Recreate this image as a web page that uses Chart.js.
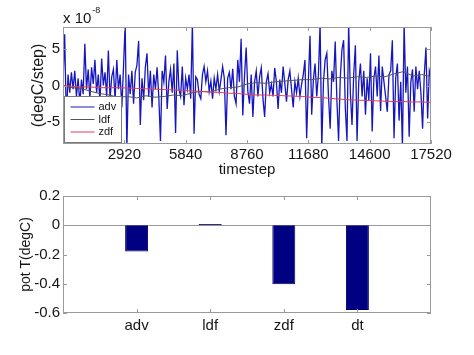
<!DOCTYPE html>
<html>
<head>
<meta charset="utf-8">
<script src="https://cdn.jsdelivr.net/npm/chart.js@4/dist/chart.umd.min.js"></script>
<style>
  html, body { margin: 0; padding: 0; background: #fff; }
  #wrap { position: relative; width: 474px; height: 355px; overflow: hidden; }
  #top { position: absolute; left: 0; top: 0; }
  #bot { position: absolute; left: 0; top: 180px; }
</style>
</head>
<body>
<div id="wrap">
  <canvas id="top" width="474" height="180"></canvas>
  <canvas id="bot" width="474" height="175"></canvas>
</div>
<script>
// ---------- DATA (values in units of 1e-8 degC/step) ----------
const seriesNames = ['adv', 'ldf', 'zdf'];
const advStep = 80;   // timesteps between adv samples
const advValues = [
  0.5, 7.0, -5.0, 1.5, -1.0, 1.8, -0.5, 2.0, -1.5, 1.0,
  -2.5, 0.8, -1.2, 5.7, -0.5, 2.2, -1.8, 2.5, 0.2, 3.5,
  -1.0, 1.5, -2.2, 3.7, 0.0, 1.8, -1.5, 4.8, -1.9, 1.2,
  2.2, -2.0, 3.5, -0.5, 1.5, -3.0, 2.5, 8.5, -8.5, 1.5,
  -1.2, 2.0, -2.5, 1.8, 2.8, 6.1, -5.4, 1.0, -2.0, 2.5,
  4.4, -1.5, 2.0, -3.0, 1.5, -0.5, 2.5, -1.5, -7.6, 2.0,
  0.5, 4.1, -3.2, 0.5, 2.2, -1.0, 3.0, -6.5, 4.8, -0.5,
  -1.5, 2.6, -2.7, 1.0, -0.5, 1.5, -1.8, 8.5, -6.6, 1.2,
  0.8, -1.2, -1.8, 1.5, 2.6, 0.5, 2.0, -0.8, 0.6, -1.8,
  1.0, -0.5, 1.5, -0.8, 0.8, 2.6, 1.0, -6.8, 1.0, 1.8,
  -0.5, 2.3, -1.5, -2.5, 3.5, 0.5, 6.4, -4.1, 1.2, 5.2,
  -0.8, -2.5, 1.5, -4.3, 0.5, 2.0, -1.5, 1.2, 2.4, -1.8,
  -4.3, 0.5, 1.6, -1.0, 0.2, -1.5, 2.4, 0.5, -3.2, 0.8,
  -1.0, 2.6, 0.3, -2.2, 0.8, 2.0, -0.5, -3.0, 0.5, -1.0,
  1.0, -1.5, 0.2, 1.5, 3.5, -7.2, 0.5, 6.8, -4.0, 0.8,
  3.0, -1.5, 1.5, 8.5, -8.5, 0.5, 3.5, 4.4, -1.5, -5.9,
  2.0, 0.5, 6.0, -2.0, -7.6, 1.0, 4.9, 6.2, -3.0, -7.6,
  8.5, -1.0, -5.4, 1.5, 5.5, -7.6, 0.5, 3.0, -1.5, 2.0,
  -4.0, 1.0, -2.0, 4.4, -6.3, 1.0, 2.6, -1.5, 4.1, -3.5,
  2.6, 0.5, -1.5, -3.6, 1.5, 2.0, 6.2, -7.2, 1.0, 3.0,
  -4.8, 0.5, -8.5, 8.5, -1.0, 2.6, -7.0, 0.5, 2.2, -3.6,
  2.6, -0.5, 2.0, -1.0, -5.9, 1.5, 5.2, -4.5, 2.0, 1.0
];
const slowStep = 438; // timesteps between ldf / zdf samples
const ldfValues = [
  0.0, -0.3, -0.4, -0.8, -1.1, -1.3, -1.6, -1.5, -1.7, -1.4,
  -1.6, -1.5, -1.3, -1.4, -1.0, -0.8, -0.9, -0.5, -0.3, -0.2,
  0.2, 0.4, 0.3, 0.5, 0.6, 0.7, 0.8, 0.8, 1.0, 0.9,
  1.1, 1.0, 1.2, 1.1, 1.3, 1.2, 1.6, 1.9, 1.3, 1.5, 1.2
];
const zdfValues = [
  0.0, -0.1, -0.2, -0.2, -0.3, -0.3, -0.3, -0.35, -0.4, -0.45,
  -0.5, -0.55, -0.6, -0.7, -0.75, -0.8, -0.9, -0.95, -1.05, -1.1,
  -1.2, -1.3, -1.3, -1.35, -1.4, -1.45, -1.5, -1.6, -1.65, -1.75,
  -1.85, -1.95, -2.0, -2.05, -2.1, -2.15, -2.2, -2.2, -2.25, -2.25, -2.3
];
const topXTicks = [2920, 5840, 8760, 11680, 14600, 17520];
const topYTicks = [-5, 0, 5];

const barCategories = ['adv', 'ldf', 'zdf', 'dt'];
const barValues = [-0.18, 0.008, -0.404, -0.58];
const botYTicks = [0.2, 0, -0.2, -0.4, -0.6];

// ---------- STYLE ----------
const FONT = '"Liberation Sans", Arial, Helvetica, sans-serif';
const TEXT = '#151515';
const FRAME = '#9a9a9a';
const colors = { adv: 'rgb(22,22,190)', ldf: 'rgb(85,85,85)', zdf: 'rgb(228,60,85)' };

function toPoints(vals, step) { return vals.map((v, i) => ({ x: i * step, y: v })); }

const framePlugin = {
  id: 'frame',
  beforeDatasetsDraw(chart, args, opts) {
    if (!opts.zeroLine) return;
    const { ctx, chartArea: a } = chart;
    const y = Math.round(chart.scales.y.getPixelForValue(0)) + 0.5;
    ctx.save();
    ctx.strokeStyle = FRAME; ctx.lineWidth = 1;
    ctx.beginPath(); ctx.moveTo(a.left, y); ctx.lineTo(a.right, y); ctx.stroke();
    ctx.restore();
  },
  afterDraw(chart, args, opts) {
    const { ctx, chartArea: a } = chart;
    ctx.save();
    ctx.strokeStyle = FRAME; ctx.lineWidth = 1;
    ctx.strokeRect(Math.round(a.left) + 0.5, Math.round(a.top) + 0.5,
                   Math.round(a.right - a.left) - 1, Math.round(a.bottom - a.top) - 1);
    const L = 4;
    ctx.beginPath();
    const xs = chart.scales.x, ys = chart.scales.y;
    xs.ticks.forEach((t, i) => {
      if (opts.skipEmpty && !xs.getLabelForValue(t.value)) return;
      const p = Math.round(xs.getPixelForTick(i)) + 0.5;
      ctx.moveTo(p, a.bottom); ctx.lineTo(p, a.bottom - L);
      ctx.moveTo(p, a.top); ctx.lineTo(p, a.top + L);
    });
    ys.ticks.forEach(t => {
      const p = Math.round(ys.getPixelForValue(t.value)) + 0.5;
      ctx.moveTo(a.left, p); ctx.lineTo(a.left + L, p);
      ctx.moveTo(a.right, p); ctx.lineTo(a.right - L, p);
    });
    ctx.stroke();
    ctx.restore();
  }
};

const topExtras = {
  id: 'topExtras',
  afterDraw(chart) {
    const { ctx, chartArea: a } = chart;
    ctx.save();
    // exponent label
    ctx.fillStyle = TEXT;
    ctx.textBaseline = 'alphabetic';
    ctx.textAlign = 'left';
    ctx.font = '15px ' + FONT;
    ctx.fillText('x 10', a.left, a.top - 4);
    const w = ctx.measureText('x 10').width;
    ctx.font = '9px ' + FONT;
    ctx.fillText('-8', a.left + w + 1, a.top - 14);
    // legend box
    const bx = Math.round(a.left) + 1.5, bw = 57, bh = 46;
    const by = Math.round(a.bottom) - bh - 1.5;
    ctx.fillStyle = '#fff';
    ctx.fillRect(bx, by, bw, bh);
    ctx.strokeStyle = '#7a7a7a'; ctx.lineWidth = 1;
    ctx.strokeRect(bx, by, bw, bh);
    ctx.font = '11px ' + FONT;
    ctx.textBaseline = 'middle';
    seriesNames.forEach((n, i) => {
      const y = by + 10 + i * 12.5;
      ctx.strokeStyle = colors[n];
      ctx.beginPath(); ctx.moveTo(bx + 6, y + 0.5); ctx.lineTo(bx + 30, y + 0.5); ctx.stroke();
      ctx.fillStyle = TEXT;
      ctx.fillText(n, bx + 34, y + 0.5);
    });
    ctx.restore();
  }
};

Chart.defaults.font.family = FONT;
Chart.defaults.color = TEXT;

// ---------- TOP CHART ----------
new Chart(document.getElementById('top'), {
  type: 'line',
  data: {
    datasets: [
      { label: 'adv', data: toPoints(advValues, advStep), borderColor: colors.adv, borderWidth: 1.3, order: 3 },
      { label: 'ldf', data: toPoints(ldfValues, slowStep), borderColor: colors.ldf, borderWidth: 1, order: 2 },
      { label: 'zdf', data: toPoints(zdfValues, slowStep), borderColor: colors.zdf, borderWidth: 1, order: 1 }
    ]
  },
  options: {
    responsive: false, animation: false, devicePixelRatio: 1,
    layout: { padding: { left: 29, right: 43, top: 27, bottom: 0 } },
    elements: { point: { radius: 0 }, line: { tension: 0 } },
    plugins: { legend: { display: false }, tooltip: { enabled: false }, frame: {} },
    scales: {
      x: {
        type: 'linear', min: 0, max: 17520,
        afterBuildTicks: s => { s.ticks = topXTicks.map(v => ({ value: v })); },
        afterFit: s => { s.height = 36; },
        grid: { display: false, drawTicks: false }, border: { display: false },
        ticks: { font: { size: 15 }, padding: 2, maxRotation: 0, autoSkip: false, callback: v => String(v) },
        title: { display: true, text: 'timestep', font: { size: 15 }, padding: { top: 0, bottom: 1 } }
      },
      y: {
        min: -8, max: 8,
        afterBuildTicks: s => { s.ticks = topYTicks.map(v => ({ value: v })); },
        afterFit: s => { s.width = 34; },
        grid: { display: false, drawTicks: false }, border: { display: false },
        ticks: { font: { size: 15 }, padding: 3, callback: v => String(v) },
        title: { display: true, text: '(degC/step)', font: { size: 16 }, padding: { top: 0, bottom: 0 } }
      }
    }
  },
  plugins: [framePlugin, topExtras]
});

// ---------- BOTTOM CHART ----------
new Chart(document.getElementById('bot'), {
  type: 'bar',
  data: {
    labels: ['', ...barCategories, ''],
    datasets: [{
      data: [null, ...barValues, null],
      backgroundColor: '#000083', borderColor: '#00005e', borderWidth: 1,
      barPercentage: 0.39, categoryPercentage: 0.8
    }]
  },
  options: {
    responsive: false, animation: false, devicePixelRatio: 1,
    layout: { padding: { left: 18, right: 43, top: 16, bottom: 0 } },
    plugins: { legend: { display: false }, tooltip: { enabled: false }, frame: { zeroLine: true, skipEmpty: true } },
    scales: {
      x: {
        offset: false,
        afterFit: s => { s.height = 42; },
        grid: { display: false, drawTicks: false }, border: { display: false },
        ticks: { font: { size: 15 }, padding: 4, maxRotation: 0, autoSkip: false }
      },
      y: {
        min: -0.6, max: 0.2,
        afterBuildTicks: s => { s.ticks = botYTicks.map(v => ({ value: v })); },
        afterFit: s => { s.width = 45; },
        grid: { display: false, drawTicks: false }, border: { display: false },
        ticks: { font: { size: 15 }, padding: 3, callback: v => String(Math.round(v * 10) / 10) },
        title: { display: true, text: 'pot T(degC)', font: { size: 14 }, padding: { top: 0, bottom: 0 } }
      }
    }
  },
  plugins: [framePlugin]
});
</script>
</body>
</html>
